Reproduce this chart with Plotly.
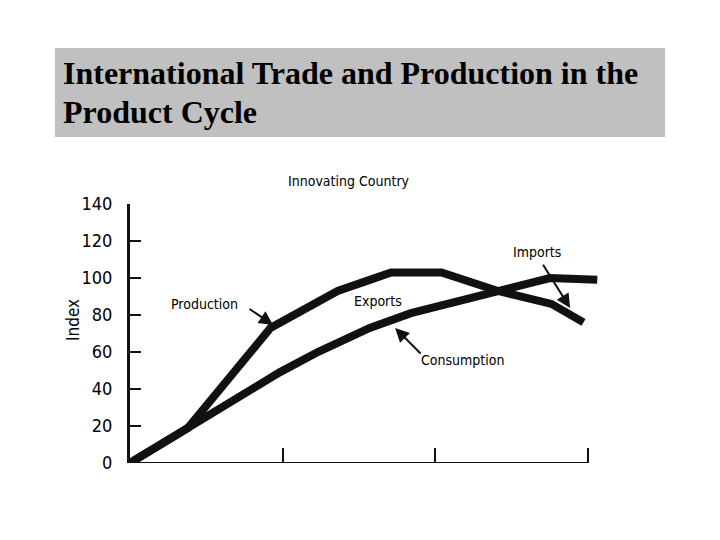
import plotly.graph_objects as go

# ---- data ----
prod_x = [0, 0.38, 0.92, 1.36, 1.57, 1.71, 2.04, 2.41, 2.76, 2.97]
prod_y = [0, 19, 73, 93, 99, 103, 103, 93, 86, 76]
cons_x = [0, 0.38, 0.98, 1.23, 1.57, 1.84, 2.41, 2.75, 3.06]
cons_y = [0, 19, 49, 60, 73, 81, 93, 100, 99]
y_ticks = [0, 20, 40, 60, 80, 100, 120, 140]
x_ticks = [1, 2, 3]

title_lines = ["International Trade and Production in the", "Product Cycle"]
chart_title = "Innovating Country"
y_title = "Index"

NARROW = "DejaVu Sans Condensed, Liberation Sans Narrow, sans-serif"
SERIF = "Liberation Serif, Times New Roman, serif"
INK = "#111111"

fig = go.Figure()
fig.add_trace(go.Scatter(x=prod_x, y=prod_y, mode="lines", name="Production",
                         line=dict(color=INK, width=8), hoverinfo="skip"))
fig.add_trace(go.Scatter(x=cons_x, y=cons_y, mode="lines", name="Consumption",
                         line=dict(color=INK, width=8), hoverinfo="skip"))

L, T, W, H = 130, 204, 470, 259


def px(xp):
    return (xp - L) / W


def py(yp):
    return (T + H - yp) / H


fig.update_layout(
    width=720, height=540,
    margin=dict(l=L, r=720 - L - W, t=T, b=540 - T - H),
    paper_bgcolor="white", plot_bgcolor="white",
    showlegend=False,
    xaxis=dict(range=[0, 3.078], showgrid=False, zeroline=False, showline=False,
               tickvals=x_ticks, ticks="inside", ticklen=15, tickwidth=2,
               tickcolor=INK, showticklabels=False),
    yaxis=dict(range=[0, 140], showgrid=False, zeroline=False, showline=True,
               linecolor=INK, linewidth=3, tickvals=y_ticks, ticks="inside",
               ticklen=11, tickwidth=2, tickcolor=INK,
               tickfont=dict(family=NARROW, size=18, color="black"),
               ticklabelstandoff=11),
)

# x-axis baseline up to last tick
fig.add_shape(type="line", xref="x", yref="y", x0=0, x1=x_ticks[-1], y0=0, y1=0,
              line=dict(color=INK, width=2))

# grey title box
fig.add_shape(type="rect", xref="paper", yref="paper",
              x0=px(55), x1=px(665), y0=py(137), y1=py(48),
              fillcolor="#c0c0c0", line=dict(width=0), layer="below")
fig.add_annotation(xref="paper", yref="paper", x=px(61), y=py(73),
                   xanchor="left", yanchor="middle", showarrow=False,
                   text="<b>" + title_lines[0] + "</b>",
                   font=dict(family=SERIF, size=32, color="black"))
fig.add_annotation(xref="paper", yref="paper", x=px(61), y=py(112),
                   xanchor="left", yanchor="middle", showarrow=False,
                   text="<b>" + title_lines[1] + "</b>",
                   font=dict(family=SERIF, size=32, color="black"))

lab = dict(family=NARROW, size=14, color="black")
fig.add_annotation(xref="paper", yref="paper", x=px(349), y=py(181), text=chart_title,
                   xanchor="center", yanchor="middle", showarrow=False, font=lab)
fig.add_annotation(xref="paper", yref="paper", x=px(73), y=py(320), text=y_title,
                   xanchor="center", yanchor="middle", showarrow=False, textangle=-90,
                   font=dict(family=NARROW, size=17, color="black"))

# text labels (data coords)
fig.add_annotation(x=0.485, y=86, text="Production", showarrow=False, font=lab)
fig.add_annotation(x=1.624, y=87.6, text="Exports", showarrow=False, font=lab)
fig.add_annotation(x=2.175, y=55.7, text="Consumption", showarrow=False, font=lab)
fig.add_annotation(x=2.666, y=114, text="Imports", showarrow=False, font=lab)

# arrows
arrow = dict(showarrow=True, arrowhead=2, arrowsize=1.4, arrowwidth=2,
             arrowcolor=INK, axref="x", ayref="y", text="", standoff=0)
fig.add_annotation(x=0.937, y=74.6, ax=0.773, ay=83.8, **arrow)
fig.add_annotation(x=1.736, y=73, ax=1.913, ay=58.4, **arrow)
fig.add_annotation(x=2.882, y=83.8, ax=2.699, ay=108, **arrow)

fig.write_html("out.html")
